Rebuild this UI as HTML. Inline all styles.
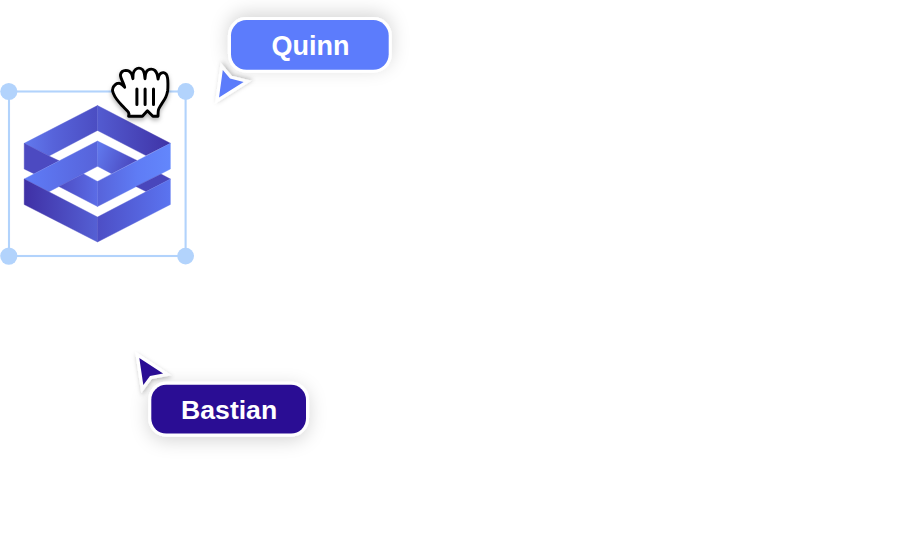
<!DOCTYPE html>
<html>
<head>
<meta charset="utf-8">
<title>Cursors</title>
<style>
html,body{margin:0;padding:0;background:#fff;}
body{width:900px;height:549px;position:relative;overflow:hidden;font-family:"Liberation Sans",sans-serif;}
svg{position:absolute;left:0;top:0;}
text{font-family:"Liberation Sans",sans-serif;font-weight:bold;font-size:27px;fill:#fff;}
</style>
</head>
<body>
<svg width="900" height="549" viewBox="0 0 900 549">
 <defs>
  <linearGradient id="gUL" gradientUnits="userSpaceOnUse" x1="24" y1="0" x2="97.5" y2="0"><stop offset="0" stop-color="#627aee"/><stop offset="0.4" stop-color="#5763da"/><stop offset="1" stop-color="#4b4dc2"/></linearGradient>
  <linearGradient id="gUR" gradientUnits="userSpaceOnUse" x1="97.5" y1="0" x2="170.5" y2="0"><stop offset="0" stop-color="#535bd0"/><stop offset="1" stop-color="#3f33a6"/></linearGradient>
  <linearGradient id="gLB" gradientUnits="userSpaceOnUse" x1="24" y1="0" x2="97.5" y2="0"><stop offset="0" stop-color="#5f7cf7"/><stop offset="1" stop-color="#5763da"/></linearGradient>
  <linearGradient id="gCR" gradientUnits="userSpaceOnUse" x1="97.5" y1="150" x2="134" y2="164"><stop offset="0" stop-color="#6077ec"/><stop offset="0.5" stop-color="#5560d6"/><stop offset="1" stop-color="#4a48be"/></linearGradient>
  <linearGradient id="gRB" gradientUnits="userSpaceOnUse" x1="97.5" y1="0" x2="170.5" y2="0"><stop offset="0" stop-color="#5763da"/><stop offset="0.55" stop-color="#5f7cf5"/><stop offset="1" stop-color="#6387fc"/></linearGradient>
  <linearGradient id="gBL" gradientUnits="userSpaceOnUse" x1="59" y1="0" x2="97.5" y2="0"><stop offset="0" stop-color="#4d4cc3"/><stop offset="1" stop-color="#5b6ce6"/></linearGradient>
  <linearGradient id="gLL" gradientUnits="userSpaceOnUse" x1="24" y1="0" x2="97.5" y2="0"><stop offset="0" stop-color="#3f30a5"/><stop offset="1" stop-color="#5560d4"/></linearGradient>
  <linearGradient id="gLR" gradientUnits="userSpaceOnUse" x1="97.5" y1="0" x2="170.5" y2="0"><stop offset="0" stop-color="#4d4ec5"/><stop offset="1" stop-color="#5b74f0"/></linearGradient>
  <filter id="sh" x="-50%" y="-50%" width="200%" height="200%"><feDropShadow dx="0" dy="2.5" stdDeviation="2.3" flood-color="#000" flood-opacity="0.3"/></filter>
  <filter id="shLQ" x="-40%" y="-120%" width="180%" height="340%"><feDropShadow dx="0" dy="-4" stdDeviation="9" flood-color="#000" flood-opacity="0.16"/></filter>
  <filter id="shLB" x="-40%" y="-120%" width="180%" height="340%"><feDropShadow dx="0" dy="4" stdDeviation="9" flood-color="#000" flood-opacity="0.16"/></filter>
  <filter id="shQ" x="-50%" y="-50%" width="200%" height="200%"><feDropShadow dx="1.6" dy="-1.2" stdDeviation="2" flood-color="#000" flood-opacity="0.25"/></filter>
  <filter id="shB" x="-50%" y="-50%" width="200%" height="200%"><feDropShadow dx="0.8" dy="2" stdDeviation="2" flood-color="#000" flood-opacity="0.25"/></filter>
 </defs>
 <!-- selection box -->
 <g id="selbox">
  <rect x="9" y="91.5" width="176.6" height="164.5" fill="none" stroke="#b2d3fc" stroke-width="2.1"/>
  <circle cx="8.8" cy="91.5" r="8.6" fill="#b2d3fc"/>
  <circle cx="185.8" cy="91.5" r="8.4" fill="#b2d3fc"/>
  <circle cx="8.8" cy="256.1" r="8.6" fill="#b2d3fc"/>
  <circle cx="185.6" cy="256.1" r="8.4" fill="#b2d3fc"/>
 </g>
 <!-- logo -->
 <g id="logo">
  <polygon points="24.2,143.3 97.5,105.5 97.5,130.5 49,156" fill="url(#gUL)" stroke="url(#gUL)" stroke-width="0.4" stroke-linejoin="round"/>
  <polygon points="97.5,105.5 170.4,143.3 146,155.6 97.5,130.5" fill="url(#gUR)" stroke="url(#gUR)" stroke-width="0.4" stroke-linejoin="round"/>
  <polygon points="24.2,143.3 49,156 59,160.7 34,173.7 24.2,169" fill="#4c4ac1" stroke="#4c4ac1" stroke-width="0.4" stroke-linejoin="round"/>
  <polygon points="24.2,179 97.5,141 97.5,166.3 49,191.7" fill="url(#gLB)" stroke="url(#gLB)" stroke-width="0.4" stroke-linejoin="round"/>
  <polygon points="97.5,141 137,160.5 111.6,173.7 97.5,166.3" fill="url(#gCR)" stroke="url(#gCR)" stroke-width="0.4" stroke-linejoin="round"/>
  <polygon points="97.5,181.4 170.4,143.3 170.4,169 97.5,206.5" fill="url(#gRB)" stroke="url(#gRB)" stroke-width="0.4" stroke-linejoin="round"/>
  <polygon points="59,186.5 83.3,173.7 97.5,181.4 97.5,206.5" fill="url(#gBL)" stroke="url(#gBL)" stroke-width="0.4" stroke-linejoin="round"/>
  <polygon points="161,174 170.4,179 146,191.5 136,186.5" fill="#4946bc" stroke="#4946bc" stroke-width="0.4" stroke-linejoin="round"/>
  <polygon points="24.2,179 97.5,217 97.5,242 24.2,204.5" fill="url(#gLL)" stroke="url(#gLL)" stroke-width="0.4" stroke-linejoin="round"/>
  <polygon points="97.5,217 170.4,179 170.4,204.5 97.5,242" fill="url(#gLR)" stroke="url(#gLR)" stroke-width="0.4" stroke-linejoin="round"/>
 </g>
 <!-- hand -->
 <g id="hand" filter="url(#sh)">
  <path d="M124.7,87.2C124.5,86.5 123.9,84.9 123.3,83.3C122.7,81.7 121.5,79.3 121.0,77.8C120.5,76.3 120.3,75.5 120.5,74.4C120.7,73.4 121.4,72.2 122.3,71.5C123.2,70.8 124.7,70.5 125.8,70.4C126.9,70.4 128.2,70.6 129.2,71.2C130.2,71.8 131.1,73.0 131.7,74.2C132.3,75.5 132.7,78.0 132.9,78.7C133.0,77.8 132.9,74.7 133.3,73.2C133.7,71.7 134.6,70.3 135.5,69.5C136.4,68.7 137.8,68.1 138.9,68.1C140.1,68.1 141.5,68.7 142.4,69.5C143.3,70.3 143.8,71.7 144.2,73.2C144.6,74.7 144.9,77.8 145.0,78.7C145.1,77.8 145.3,74.6 145.8,73.2C146.3,71.8 147.0,70.9 147.9,70.2C148.8,69.5 150.2,69.1 151.4,69.1C152.6,69.1 153.9,69.6 154.8,70.4C155.7,71.2 156.4,72.5 157.0,73.9C157.6,75.4 157.9,78.2 158.1,79.1C158.2,78.5 158.4,76.8 158.9,75.8C159.4,74.8 160.2,73.8 161.0,73.3C161.8,72.8 162.7,72.5 163.6,72.7C164.5,72.9 165.5,73.4 166.2,74.2C166.8,75.0 167.2,76.3 167.5,77.8C167.8,79.3 167.9,81.2 167.9,83.3C167.9,85.4 168.0,88.1 167.7,90.4C167.3,92.7 166.8,94.7 165.8,97.0C164.8,99.3 162.8,101.9 161.6,104.0C160.4,106.1 159.1,107.7 158.5,109.7C157.9,111.7 158.1,115.1 158.0,116.2L152.9,116.2L147.4,110.7L142.4,116.2L128.6,116.2C128.6,115.5 129.5,114.1 128.4,112.3C127.3,110.5 124.0,107.8 122.0,105.6C120.0,103.4 118.0,101.0 116.5,99.0C115.0,97.0 114.0,95.0 113.3,93.3C112.6,91.6 112.3,90.4 112.6,89.0C112.8,87.6 113.8,86.0 114.8,85.1C115.8,84.1 117.5,83.3 118.7,83.3C119.9,83.2 121.2,84.1 122.2,84.8C123.2,85.5 124.3,86.8 124.7,87.2Z" fill="#fff" stroke="#000" stroke-width="2.9" stroke-linejoin="round"/>
  <path d="M136.9,89V104.4M145.1,89V104.4M153.5,89V104.4" stroke="#000" stroke-width="3" stroke-linecap="round" fill="none"/>
 </g>
 <!-- cursors -->
 <g>
  <polygon filter="url(#shQ)" points="219,97.6 222.8,70 230,78.5 243.6,82" fill="#5b7bfb" stroke="#fff" stroke-width="6.4" stroke-linejoin="miter" stroke-miterlimit="10" paint-order="stroke"/>
  <polygon filter="url(#shB)" points="139.3,358 163.1,373.6 150,376 143.3,385.1" fill="#2b1095" stroke="#fff" stroke-width="6.4" stroke-linejoin="miter" stroke-miterlimit="10" paint-order="stroke"/>
 </g>
 <!-- labels -->
 <g id="labels">
  <rect filter="url(#shLQ)" x="231" y="20.1" width="157.7" height="49.6" rx="15.5" fill="#5b7cfc" stroke="#fff" stroke-width="6.1" paint-order="stroke"/>
  <text x="271.4" y="55.2">Quinn</text>
  <rect filter="url(#shLB)" x="151.3" y="384.8" width="154.7" height="48.8" rx="15" fill="#2a0f94" stroke="#fff" stroke-width="6.1" paint-order="stroke"/>
  <text x="181.1" y="418.6" style="font-size:26.6px">Bastian</text>
 </g>
</svg>
</body>
</html>
